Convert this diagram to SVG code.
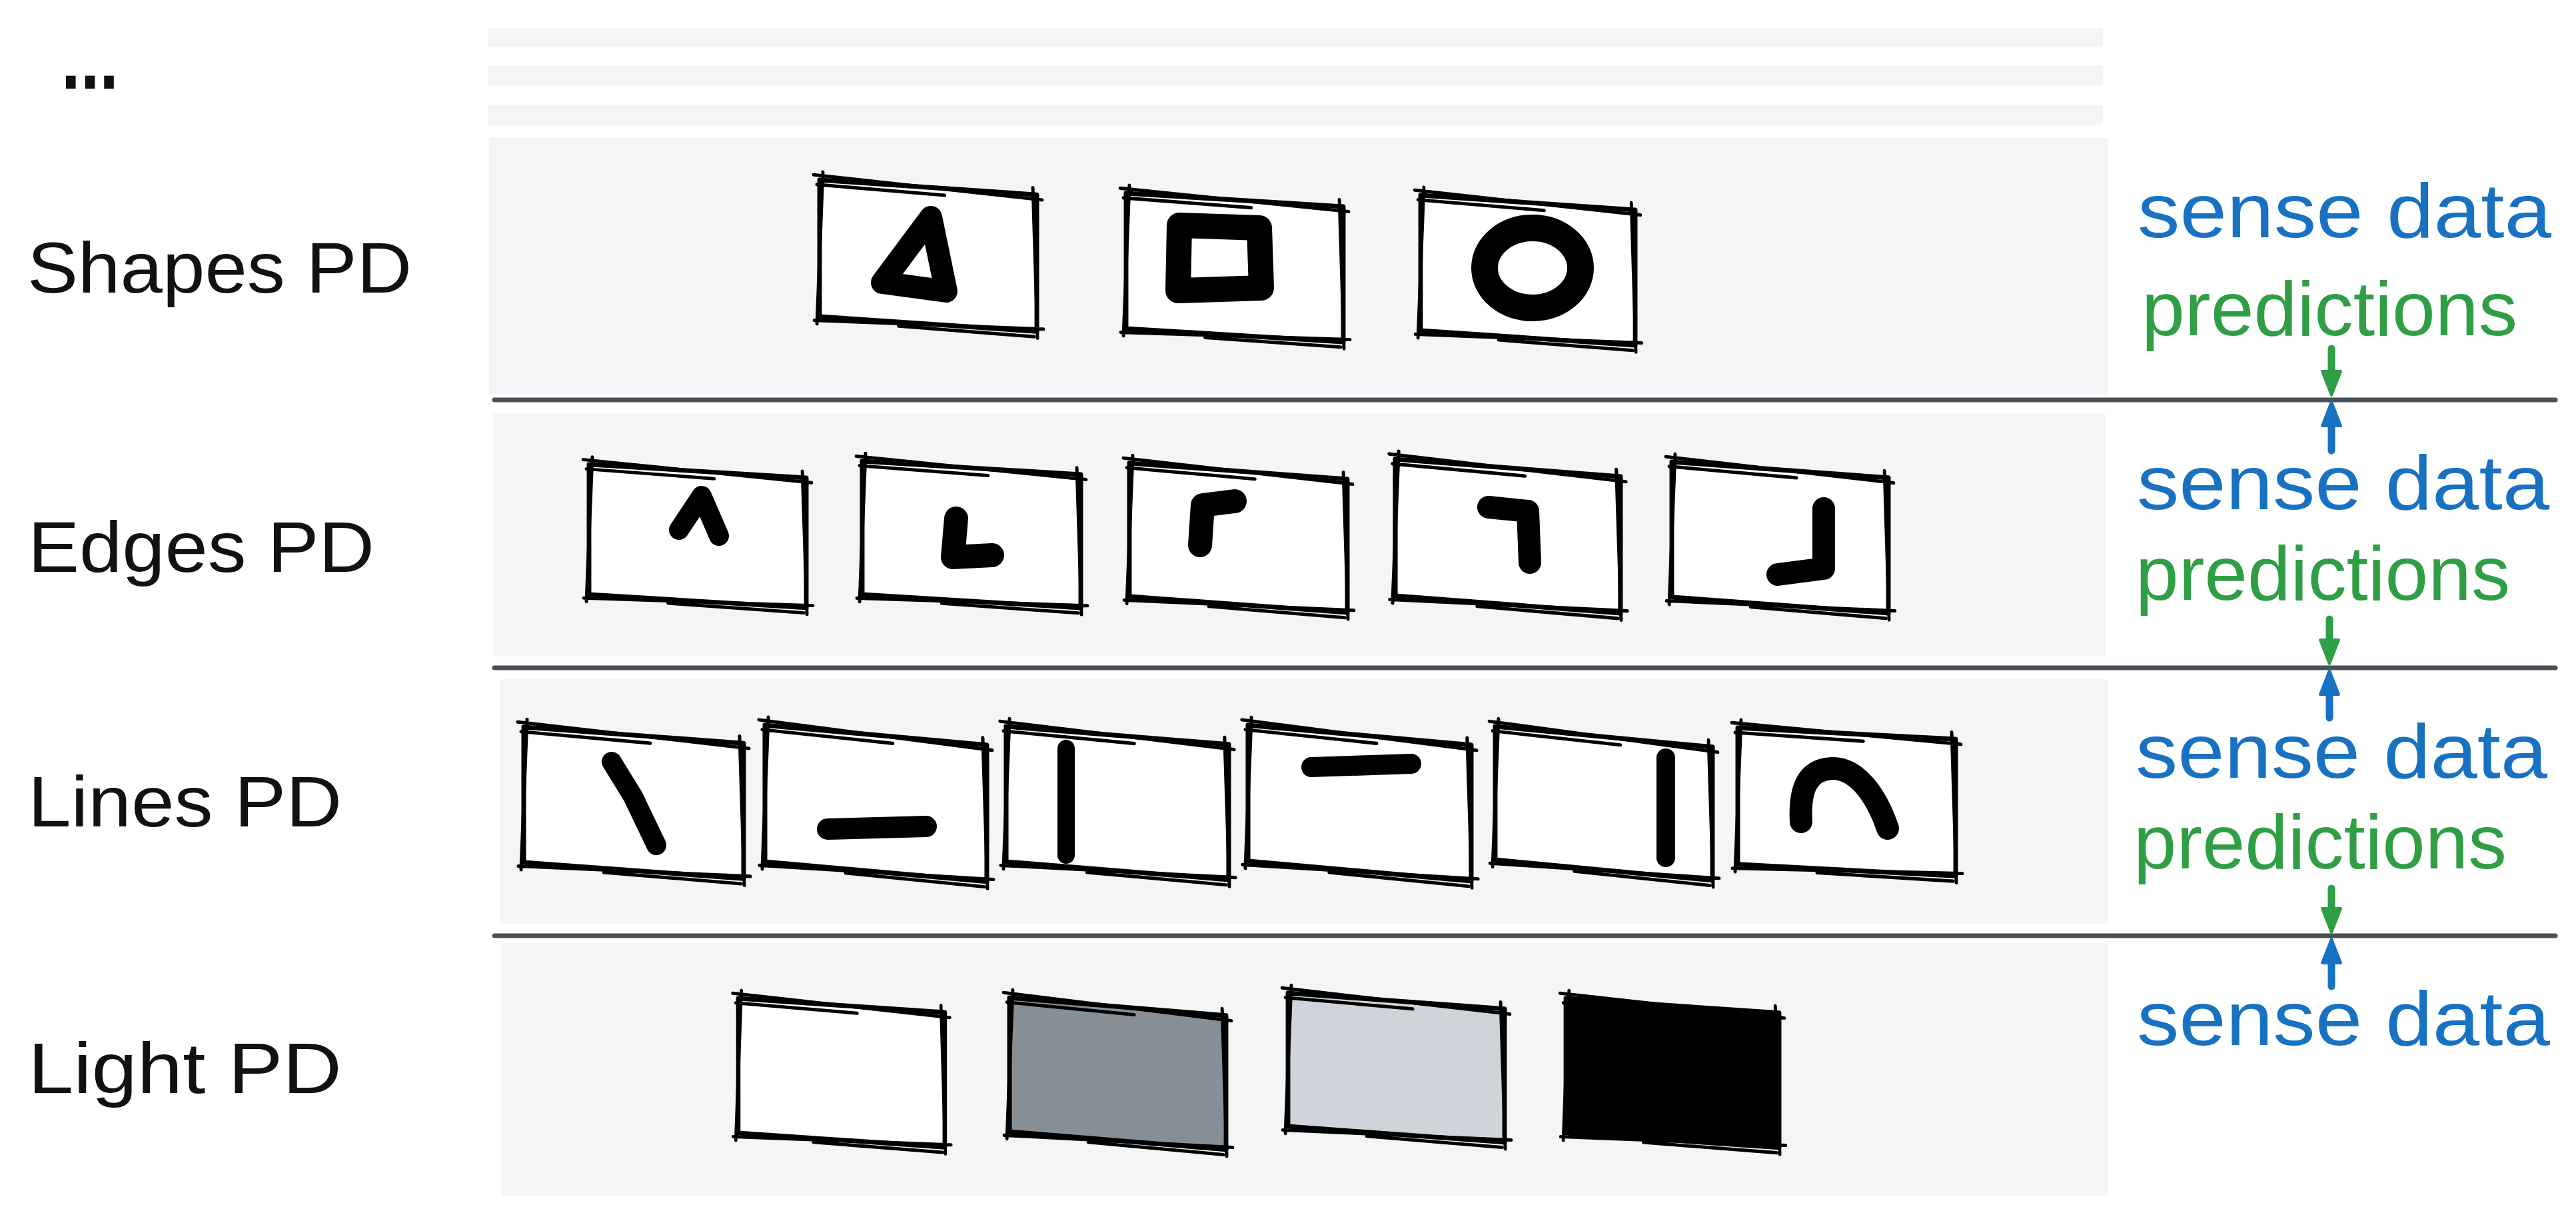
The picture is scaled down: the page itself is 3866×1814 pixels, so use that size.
<svg xmlns="http://www.w3.org/2000/svg" xmlns:xlink="http://www.w3.org/1999/xlink" width="3866" height="1814" viewBox="0 0 3866 1814">
<style>
.panel{fill:#f4f5f7}
.divider{stroke:#495057;stroke-width:7;stroke-linecap:round;fill:none}
.lbl{font-family:"Liberation Sans",Arial,sans-serif;font-size:108px;fill:#111111}
.dots{font-family:"Liberation Sans",Arial,sans-serif;font-size:130px;font-weight:bold;fill:#111111}
.side{font-family:"Liberation Sans",Arial,sans-serif;font-size:115px}
.sense{fill:#1971c2}
.pred{fill:#2f9e44}
.glyph{fill:none;stroke:#000;stroke-linecap:round;stroke-linejoin:round}
.arr-g{stroke:#2f9e44;stroke-width:11;stroke-linecap:round;fill:none}
.arr-b{stroke:#1971c2;stroke-width:11;stroke-linecap:round;fill:none}
</style>
<defs>
<g id="card">
<path d="M0,0 L330,0 L330,200 L0,200 Z" stroke="#000" stroke-width="7" stroke-linejoin="round"/>
<path d="M-9,-7 L338,7 M324,-10 L331,210 M340,196 L-8,206 M5,-12 L-4,211 M-4,7 L190,10 M120,206 L326,208" fill="none" stroke="#000" stroke-width="5" stroke-linecap="round"/>
</g>
<marker id="ah-g" viewBox="0 0 40 34" refX="18" refY="17" markerWidth="40" markerHeight="34" markerUnits="userSpaceOnUse" orient="auto">
<path d="M2,3 L38,17 L2,31 Z" fill="#2f9e44" stroke="#2f9e44" stroke-width="4" stroke-linejoin="round"/>
</marker>
<marker id="ah-b" viewBox="0 0 40 34" refX="18" refY="17" markerWidth="40" markerHeight="34" markerUnits="userSpaceOnUse" orient="auto">
<path d="M2,3 L38,17 L2,31 Z" fill="#1971c2" stroke="#1971c2" stroke-width="4" stroke-linejoin="round"/>
</marker>
</defs>
<rect width="3866" height="1814" fill="#ffffff"/>

<g id="more">
<rect class="panel" x="732" y="42" width="2424" height="29"/>
<rect class="panel" x="732" y="99" width="2424" height="29"/>
<rect class="panel" x="732" y="158" width="2424" height="29"/>
<text class="dots" x="92" y="133" textLength="86" lengthAdjust="spacingAndGlyphs">...</text>
</g>

<g id="shapes-pd">
<rect class="panel" x="734" y="207" width="2430" height="385"/>
<text class="lbl" x="41" y="439" textLength="577" lengthAdjust="spacingAndGlyphs">Shapes PD</text>
<g id="shape-triangle"><use href="#card" fill="#fff" transform="translate(1230,270) skewY(3.9) scale(0.988,1.025)"/><path class="glyph" stroke-width="34" d="M1397,326 L1324,424 L1420,437 Z"/></g>
<g id="shape-square"><use href="#card" fill="#fff" transform="translate(1690,290) skewY(3.5) scale(0.988,1.015)"/><path class="glyph" stroke-width="38" d="M1770,338 L1890,342 L1893,432 L1768,436 Z"/></g>
<g id="shape-circle"><use href="#card" fill="#fff" transform="translate(2132,293) skewY(3.9) scale(0.976,1.015)"/><ellipse class="glyph" stroke-width="40" cx="2300" cy="402" rx="72" ry="60"/></g>
</g>

<g id="edges-pd">
<rect class="panel" x="740" y="620" width="2420" height="365"/>
<text class="lbl" x="42" y="858" textLength="520" lengthAdjust="spacingAndGlyphs">Edges PD</text>
<g id="edge-1"><use href="#card" fill="#fff" transform="translate(884,697) skewY(3.5) scale(0.988,0.975)"/><path class="glyph" stroke-width="30" d="M1019,795 L1053,744 L1079,804"/></g>
<g id="edge-2"><use href="#card" fill="#fff" transform="translate(1294,692) skewY(3.5) scale(0.994,1)"/><path class="glyph" stroke-width="36" d="M1435,778 L1430,836 L1489,833"/></g>
<g id="edge-3"><use href="#card" fill="#fff" transform="translate(1695,695) skewY(4.2) scale(0.991,1)"/><path class="glyph" stroke-width="36" d="M1801,818 L1805,758 L1853,752"/></g>
<g id="edge-4"><use href="#card" fill="#fff" transform="translate(2094,689) skewY(4.4) scale(1.024,1.025)"/><path class="glyph" stroke-width="34" d="M2234,761 L2293,767 L2296,844"/></g>
<g id="edge-5"><use href="#card" fill="#fff" transform="translate(2509,693) skewY(4.2) scale(0.985,1.015)"/><path class="glyph" stroke-width="34" d="M2737,763 L2737,853 L2668,862"/></g>
</g>

<g id="lines-pd">
<rect class="panel" x="750" y="1019" width="2414" height="368"/>
<text class="lbl" x="42" y="1240" textLength="471" lengthAdjust="spacingAndGlyphs">Lines PD</text>
<g id="line-1"><use href="#card" fill="#fff" transform="translate(786,1091) skewY(4.2) scale(1,1.015)"/><path class="glyph" stroke-width="30" d="M918,1143 L950,1195 L985,1268"/></g>
<g id="line-2"><use href="#card" fill="#fff" transform="translate(1148,1088) skewY(5.1) scale(1.009,1.025)"/><path class="glyph" stroke-width="32" d="M1242,1244 L1390,1240"/></g>
<g id="line-3"><use href="#card" fill="#fff" transform="translate(1510,1090) skewY(4.6) scale(1.012,1.015)"/><path class="glyph" stroke-width="26" d="M1600,1123 L1600,1283"/></g>
<g id="line-4"><use href="#card" fill="#fff" transform="translate(1873,1088) skewY(5.1) scale(1.015,1.02)"/><path class="glyph" stroke-width="30" d="M1968,1151 L2118,1146"/></g>
<g id="line-5"><use href="#card" fill="#fff" transform="translate(2244,1090) skewY(5.4) scale(0.988,1)"/><path class="glyph" stroke-width="28" d="M2500,1137 L2500,1287"/></g>
<g id="line-6"><use href="#card" fill="#fff" transform="translate(2608,1092) skewY(3) scale(0.991,1.025)"/><path class="glyph" stroke-width="34" d="M2703,1233 C2700,1180 2715,1155 2749,1153 C2785,1152 2815,1190 2833,1243"/></g>
</g>

<g id="light-pd">
<rect class="panel" x="752" y="1415" width="2412" height="380"/>
<text class="lbl" x="42" y="1640" textLength="471" lengthAdjust="spacingAndGlyphs">Light PD</text>
<g id="light-white"><use href="#card" fill="#ffffff" transform="translate(1108,1498) skewY(3.9) scale(0.939,1.01)"/></g>
<g id="light-gray"><use href="#card" fill="#868e96" transform="translate(1515,1497) skewY(4.7) scale(0.985,1.005)"/></g>
<g id="light-lightgray"><use href="#card" fill="#ced4da" transform="translate(1933,1490) skewY(4.2) scale(0.985,1)"/></g>
<g id="light-black"><use href="#card" fill="#000000" transform="translate(2350,1498) skewY(3.9) scale(0.97,1.01)"/></g>
</g>

<g id="dividers">
<line class="divider" x1="742" y1="600" x2="3835" y2="600"/>
<line class="divider" x1="742" y1="1002" x2="3835" y2="1002"/>
<line class="divider" x1="742" y1="1404" x2="3835" y2="1404"/>
</g>

<g id="side-labels">
<text class="side sense" x="3208" y="356" textLength="621" lengthAdjust="spacingAndGlyphs">sense data</text>
<text class="side pred" x="3214" y="503" textLength="564" lengthAdjust="spacingAndGlyphs">predictions</text>
<text class="side sense" x="3207" y="764" textLength="619" lengthAdjust="spacingAndGlyphs">sense data</text>
<text class="side pred" x="3205" y="900" textLength="562" lengthAdjust="spacingAndGlyphs">predictions</text>
<text class="side sense" x="3205" y="1167" textLength="618" lengthAdjust="spacingAndGlyphs">sense data</text>
<text class="side pred" x="3202" y="1303" textLength="560" lengthAdjust="spacingAndGlyphs">predictions</text>
<text class="side sense" x="3207" y="1568" textLength="620" lengthAdjust="spacingAndGlyphs">sense data</text>
</g>

<g id="connectors">
<line class="arr-g" x1="3499" y1="523" x2="3499" y2="573" marker-end="url(#ah-g)"/>
<line class="arr-b" x1="3499" y1="676" x2="3499" y2="623" marker-end="url(#ah-b)"/>
<line class="arr-g" x1="3496" y1="929" x2="3496" y2="976" marker-end="url(#ah-g)"/>
<line class="arr-b" x1="3496" y1="1077" x2="3496" y2="1026" marker-end="url(#ah-b)"/>
<line class="arr-g" x1="3499" y1="1333" x2="3499" y2="1379" marker-end="url(#ah-g)"/>
<line class="arr-b" x1="3499" y1="1480" x2="3499" y2="1429" marker-end="url(#ah-b)"/>
</g>
</svg>
